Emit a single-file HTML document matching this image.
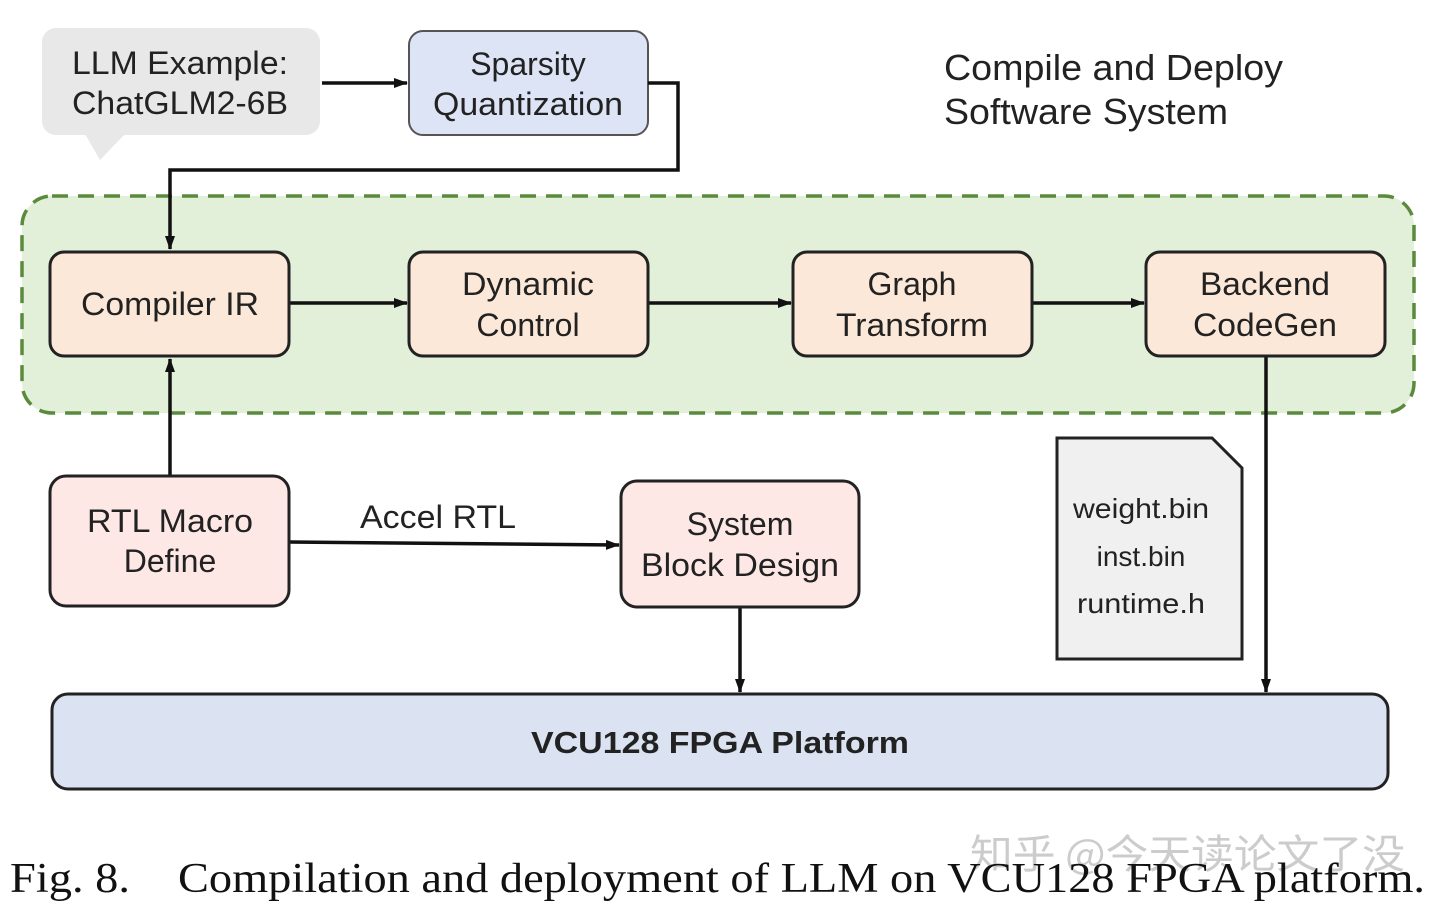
<!DOCTYPE html>
<html><head><meta charset="utf-8"><style>
body{margin:0;background:#fff;width:1440px;height:916px;overflow:hidden}
svg text{font-family:"Liberation Sans",Arial,sans-serif;fill:#222}
</style></head><body>
<svg width="1440" height="916" viewBox="0 0 1440 916" xmlns="http://www.w3.org/2000/svg">
<defs><marker id="a" markerWidth="14" markerHeight="12" refX="13" refY="6" orient="auto" markerUnits="userSpaceOnUse"><path d="M0,1 L14,6 L0,11 z" fill="#111"/></marker></defs>
<rect x="22" y="196" width="1392" height="217" rx="30" fill="#e2efd9" stroke="#5a8a3c" stroke-width="3.5" stroke-dasharray="16,10"/>
<rect x="42" y="28" width="278" height="107" rx="14" fill="#e8e8e8"/>
<path d="M85,134 L100,160 L125,134 z" fill="#e8e8e8"/>
<g font-size="32" text-anchor="middle" transform="translate(0,0)">
<text x="180" y="74" textLength="216" lengthAdjust="spacingAndGlyphs">LLM Example:</text>
<text x="180" y="114" textLength="216" lengthAdjust="spacingAndGlyphs">ChatGLM2-6B</text>
</g>
<rect x="409" y="31" width="239" height="104" rx="14" fill="#dde4f5" stroke="#555" stroke-width="2"/>
<g font-size="32" text-anchor="middle">
<text x="528" y="75">Sparsity</text>
<text x="528" y="115" textLength="190" lengthAdjust="spacingAndGlyphs">Quantization</text>
</g>
<g stroke="#111" stroke-width="3.5" fill="none">
<line x1="322" y1="83" x2="407" y2="83" marker-end="url(#a)"/>
<polyline points="648,83 678,83 678,170 170,170 170,249" marker-end="url(#a)"/>
<line x1="289" y1="303" x2="407" y2="303" marker-end="url(#a)"/>
<line x1="648" y1="303" x2="791" y2="303" marker-end="url(#a)"/>
<line x1="1032" y1="303" x2="1144" y2="303" marker-end="url(#a)"/>
<line x1="170" y1="476" x2="170" y2="359" marker-end="url(#a)"/>
<line x1="289" y1="542" x2="619" y2="545" marker-end="url(#a)"/>
<line x1="740" y1="607" x2="740" y2="692" marker-end="url(#a)"/>
<line x1="1266" y1="356" x2="1266" y2="692" marker-end="url(#a)"/>
</g>
<g stroke="#222" stroke-width="3" fill="#fce8d8">
<rect x="50" y="252" width="239" height="104" rx="14"/>
<rect x="409" y="252" width="239" height="104" rx="14"/>
<rect x="793" y="252" width="239" height="104" rx="14"/>
<rect x="1146" y="252" width="239" height="104" rx="14"/>
<rect x="50" y="476" width="239" height="130" rx="16" fill="#fde8e6"/>
<rect x="621" y="481" width="238" height="126" rx="16" fill="#fde8e6"/>
<rect x="52" y="694" width="1336" height="95" rx="16" fill="#dbe3f3"/>
<path d="M1057,438 L1212,438 L1242,468 L1242,659 L1057,659 z" fill="#f0f0f0"/>
</g>
<g font-size="32" text-anchor="middle">
<text x="170" y="315" textLength="178" lengthAdjust="spacingAndGlyphs">Compiler IR</text>
<text x="528" y="295" textLength="132" lengthAdjust="spacingAndGlyphs">Dynamic</text><text x="528" y="336">Control</text>
<text x="912" y="295">Graph</text><text x="912" y="336" textLength="152" lengthAdjust="spacingAndGlyphs">Transform</text>
<text x="1265" y="295" textLength="130" lengthAdjust="spacingAndGlyphs">Backend</text><text x="1265" y="336" textLength="144" lengthAdjust="spacingAndGlyphs">CodeGen</text>
<text x="170" y="532" textLength="166" lengthAdjust="spacingAndGlyphs">RTL Macro</text><text x="170" y="572">Define</text>
<text x="740" y="535">System</text><text x="740" y="576" textLength="198" lengthAdjust="spacingAndGlyphs">Block Design</text>
<text x="438" y="528" textLength="156" lengthAdjust="spacingAndGlyphs">Accel RTL</text>
</g>
<g font-size="28" text-anchor="middle">
<text x="1141" y="518" textLength="136" lengthAdjust="spacingAndGlyphs">weight.bin</text>
<text x="1141" y="566">inst.bin</text>
<text x="1141" y="613" textLength="128" lengthAdjust="spacingAndGlyphs">runtime.h</text>
</g>
<text x="720" y="753" font-size="31" font-weight="bold" text-anchor="middle" textLength="378" lengthAdjust="spacingAndGlyphs">VCU128 FPGA Platform</text>
<text x="944" y="80" font-size="36" textLength="339" lengthAdjust="spacingAndGlyphs">Compile and Deploy</text>
<text x="944" y="124" font-size="36" textLength="284" lengthAdjust="spacingAndGlyphs">Software System</text>
<text x="970" y="868" font-size="40" textLength="435" lengthAdjust="spacingAndGlyphs" style="fill:#ccc;font-family:'Noto Sans CJK SC',sans-serif">知乎 @今天读论文了没</text>
<text x="10" y="892" font-size="42" textLength="120" lengthAdjust="spacingAndGlyphs" style="font-family:'Liberation Serif',serif;fill:#111">Fig. 8.</text>
<text x="178" y="892" font-size="42" textLength="1247" lengthAdjust="spacingAndGlyphs" style="font-family:'Liberation Serif',serif;fill:#111">Compilation and deployment of LLM on VCU128 FPGA platform.</text>
</svg>
</body></html>
